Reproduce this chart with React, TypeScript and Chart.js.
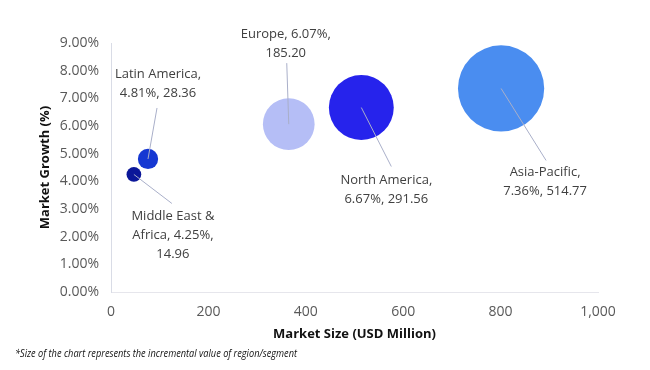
import React, { useEffect, useRef } from "react";
import { Chart, registerables } from "chart.js";

Chart.register(...registerables);

const regions = ["Latin America", "Middle East & Africa", "Europe", "North America", "Asia-Pacific"];
const marketSize = [76, 47, 365, 514, 801];
const marketGrowth = [4.81, 4.25, 6.07, 6.67, 7.36];
const incremental = [28.36, 14.96, 185.2, 291.56, 514.77];
const colors = ["#1638D2", "#0B1799", "#B5BEF6", "#2623EC", "#4A8DF0"];
const xTicks = [0, 200, 400, 600, 800, 1000];
const footnote = "*Size of the chart represents the incremental value of region/segment";

// label placement (pixel offsets from bubble centre): text centre, first line y, leader end, wrap width
const labelLayout = [
  { tx: 10, ty: -85, lx: 9, ly: -51, wrap: 95 },
  { tx: 39, ty: 42, lx: 38, ly: 29, wrap: 95 },
  { tx: -3, ty: -90, lx: -2, ly: -61, wrap: 100 },
  { tx: 25, ty: 73, lx: 30, ly: 59, wrap: 95 },
  { tx: 44, ty: 84, lx: 45, ly: 72, wrap: 95 },
];

const FAMILY = "'Open Sans', 'Noto Sans', sans-serif";
const LABEL_FONT = "13px " + FAMILY;

function wrapText(ctx: CanvasRenderingContext2D, text: string, maxW: number): string[] {
  const words = text.split(" ");
  const lines: string[] = [];
  let cur = "";
  for (const w of words) {
    const t = cur ? cur + " " + w : w;
    if (cur && ctx.measureText(t).width > maxW) {
      lines.push(cur);
      cur = w;
    } else cur = t;
  }
  if (cur) lines.push(cur);
  return lines;
}

const labelPlugin = {
  id: "bubbleLabels",
  afterDatasetsDraw(chart: any) {
    const ctx = chart.ctx as CanvasRenderingContext2D;
    const meta = chart.getDatasetMeta(0);
    ctx.save();
    ctx.font = LABEL_FONT;
    meta.data.forEach((el: any, i: number) => {
      const L = labelLayout[i];
      const cx = el.x, cy = el.y;
      ctx.strokeStyle = "#A9AFC9";
      ctx.lineWidth = 1;
      ctx.beginPath();
      ctx.moveTo(cx, cy);
      ctx.lineTo(cx + L.lx, cy + L.ly);
      ctx.stroke();
      const text = `${regions[i]}, ${marketGrowth[i].toFixed(2)}%, ${incremental[i].toFixed(2)}`;
      const lines = wrapText(ctx, text, L.wrap);
      ctx.fillStyle = "#404040";
      ctx.textAlign = "center";
      ctx.textBaseline = "middle";
      lines.forEach((ln, k) => {
        ctx.fillText(ln, cx + L.tx, cy + L.ty + k * 19);
      });
    });
    ctx.restore();
  },
  afterDraw(chart: any) {
    const ctx = chart.ctx as CanvasRenderingContext2D;
    ctx.save();
    ctx.font = "italic 11px " + FAMILY;
    ctx.fillStyle = "#111111";
    ctx.textAlign = "left";
    ctx.textBaseline = "middle";
    ctx.fillText(footnote, 15, 354, 282);
    ctx.restore();
  },
};

export default function App() {
  const ref = useRef<HTMLCanvasElement | null>(null);
  useEffect(() => {
    document.body.style.margin = "0";
    const canvas = ref.current!;
    const chart = new Chart(canvas, {
      type: "bubble",
      data: {
        datasets: [
          {
            label: "Regions",
            data: regions.map((_, i) => ({
              x: marketSize[i],
              y: marketGrowth[i],
              r: 1.9 * Math.sqrt(incremental[i]),
            })),
            backgroundColor: colors,
            borderColor: colors,
            borderWidth: 0,
          },
        ],
      },
      options: {
        responsive: false,
        animation: false,
        devicePixelRatio: 1,
        layout: { padding: { left: 33, right: 52, top: 17, bottom: 28 } },
        plugins: { legend: { display: false }, tooltip: { enabled: false } },
        scales: {
          x: {
            type: "linear",
            min: 0,
            max: 1000,
            afterBuildTicks: (s: any) => {
              s.ticks = xTicks.map((v) => ({ value: v }));
            },
            afterFit: (s: any) => {
              s.height = 50;
            },
            grid: { display: false, drawTicks: false },
            border: { display: true, color: "#E6E6EC" },
            ticks: {
              padding: 12,
              color: "#595959",
              font: { size: 14, family: FAMILY },
              callback: (v: any) => Number(v).toLocaleString("en-US"),
            },
            title: {
              display: true,
              text: "Market Size (USD Million)",
              color: "#111111",
              font: { size: 13, weight: "bold", family: FAMILY },
              padding: { top: 0, bottom: 0 },
            },
          },
          y: {
            type: "linear",
            min: 0,
            max: 9,
            ticks: {
              stepSize: 1,
              padding: 12,
              color: "#595959",
              font: { size: 14, family: FAMILY },
              callback: (v: any) => Number(v).toFixed(2) + "%",
            },
            afterFit: (s: any) => {
              s.width = 78;
            },
            grid: { display: false, drawTicks: false },
            border: { display: true, color: "#D9DCE6" },
            title: {
              display: true,
              text: "Market Growth (%)",
              color: "#111111",
              font: { size: 13, weight: "bold", family: FAMILY },
              padding: { top: 4, bottom: 4 },
            },
          },
        },
      },
      plugins: [labelPlugin],
    } as any);
    return () => chart.destroy();
  }, []);
  return (
    <div style={{ position: "absolute", left: 0, top: 0, width: 650, height: 370, background: "#ffffff" }}>
      <canvas ref={ref} width={650} height={370} style={{ width: 650, height: 370, display: "block" }} />
    </div>
  );
}
